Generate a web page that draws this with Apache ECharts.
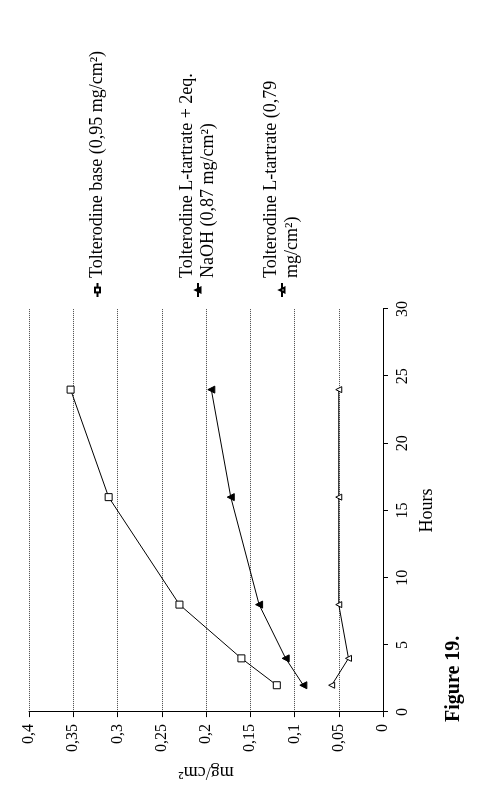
<!DOCTYPE html>
<html>
<head>
<meta charset="utf-8">
<script src="https://cdn.jsdelivr.net/npm/echarts@6/dist/echarts.min.js"></script>
<style>
  html, body { margin: 0; padding: 0; background: #fff; overflow: hidden; }
  #chart {
    position: absolute; left: 0; top: 0; width: 789px; height: 500px;
    transform-origin: 0 0;
    transform: translate(0, 789px) rotate(-90deg);
  }
</style>
</head>
<body>
<div id="chart"></div>
<script>
// page is printed landscape, so the chart is drawn flat and turned
const hours = [2, 4, 8, 16, 24]
const baseValues = [0.12, 0.16, 0.23, 0.31, 0.353]
const naohValues = [0.09, 0.11, 0.14, 0.172, 0.194]
const tartrateValues = [0.058, 0.039, 0.05, 0.05, 0.05]

const names = [
  'Tolterodine base (0,95 mg/cm²)',
  'Tolterodine L-tartrate + 2eq.\nNaOH (0,87 mg/cm²)',
  'Tolterodine L-tartrate (0,79\nmg/cm²)'
]
const symbols = ['rect', 'triangle', 'triangle']
const symbolSizes = [7, 7, 6]
const fills = ['#fff', '#000', '#fff']
const valueLists = [baseValues, naohValues, tartrateValues]
const legendTops = [82, 172, 256]

const font = 'Liberation Serif'

const series = valueLists.map((values, i) => ({
  name: names[i],
  type: 'line',
  data: hours.map((h, j) => [h, values[j]]),
  symbol: symbols[i],
  symbolSize: symbolSizes[i],
  showSymbol: true,
  lineStyle: { color: '#000', width: 1 },
  itemStyle: { color: fills[i], borderColor: '#000', borderWidth: 1 },
  animation: false
}))

const legends = names.map((name, i) => ({
  data: [name],
  left: 486,
  top: legendTops[i],
  orient: 'vertical',
  itemWidth: 14,
  itemHeight: 6,
  itemGap: 4,
  textStyle: { fontFamily: font, fontSize: 18, color: '#000', lineHeight: 21 }
}))

const chart = echarts.init(document.getElementById('chart'))
chart.setOption({
  backgroundColor: '#fff',
  animation: false,
  legend: legends,
  grid: { left: 68, right: 309, top: 29, bottom: 117 },
  xAxis: {
    type: 'value',
    min: 0, max: 30, interval: 5,
    name: 'Hours',
    nameLocation: 'middle',
    nameGap: 35,
    nameTextStyle: { fontFamily: font, fontSize: 18, color: '#000' },
    axisLine: { lineStyle: { color: '#000' } },
    axisTick: { length: 5, lineStyle: { color: '#000' } },
    axisLabel: { fontFamily: font, fontSize: 16, color: '#000', margin: 12 },
    splitLine: { show: false }
  },
  yAxis: {
    type: 'value',
    min: 0, max: 0.4, interval: 0.05,
    name: 'mg/cm²',
    nameLocation: 'middle',
    nameGap: 50,
    nameTextStyle: { fontFamily: font, fontSize: 18, color: '#000' },
    axisLine: { show: true, lineStyle: { color: '#000' } },
    axisTick: { show: true, length: 5, lineStyle: { color: '#000' } },
    axisLabel: {
      fontFamily: font, fontSize: 16, color: '#000', margin: 12,
      formatter: v => String(+v.toFixed(2)).replace('.', ',')
    },
    splitLine: { lineStyle: { type: 'dotted', color: '#444', width: 1 } }
  },
  graphic: [{
    type: 'text',
    left: 67,
    top: 444,
    style: { text: 'Figure 19.', font: 'bold 20px "Liberation Serif"', fill: '#000' }
  }],
  series
})
</script>
</body>
</html>
